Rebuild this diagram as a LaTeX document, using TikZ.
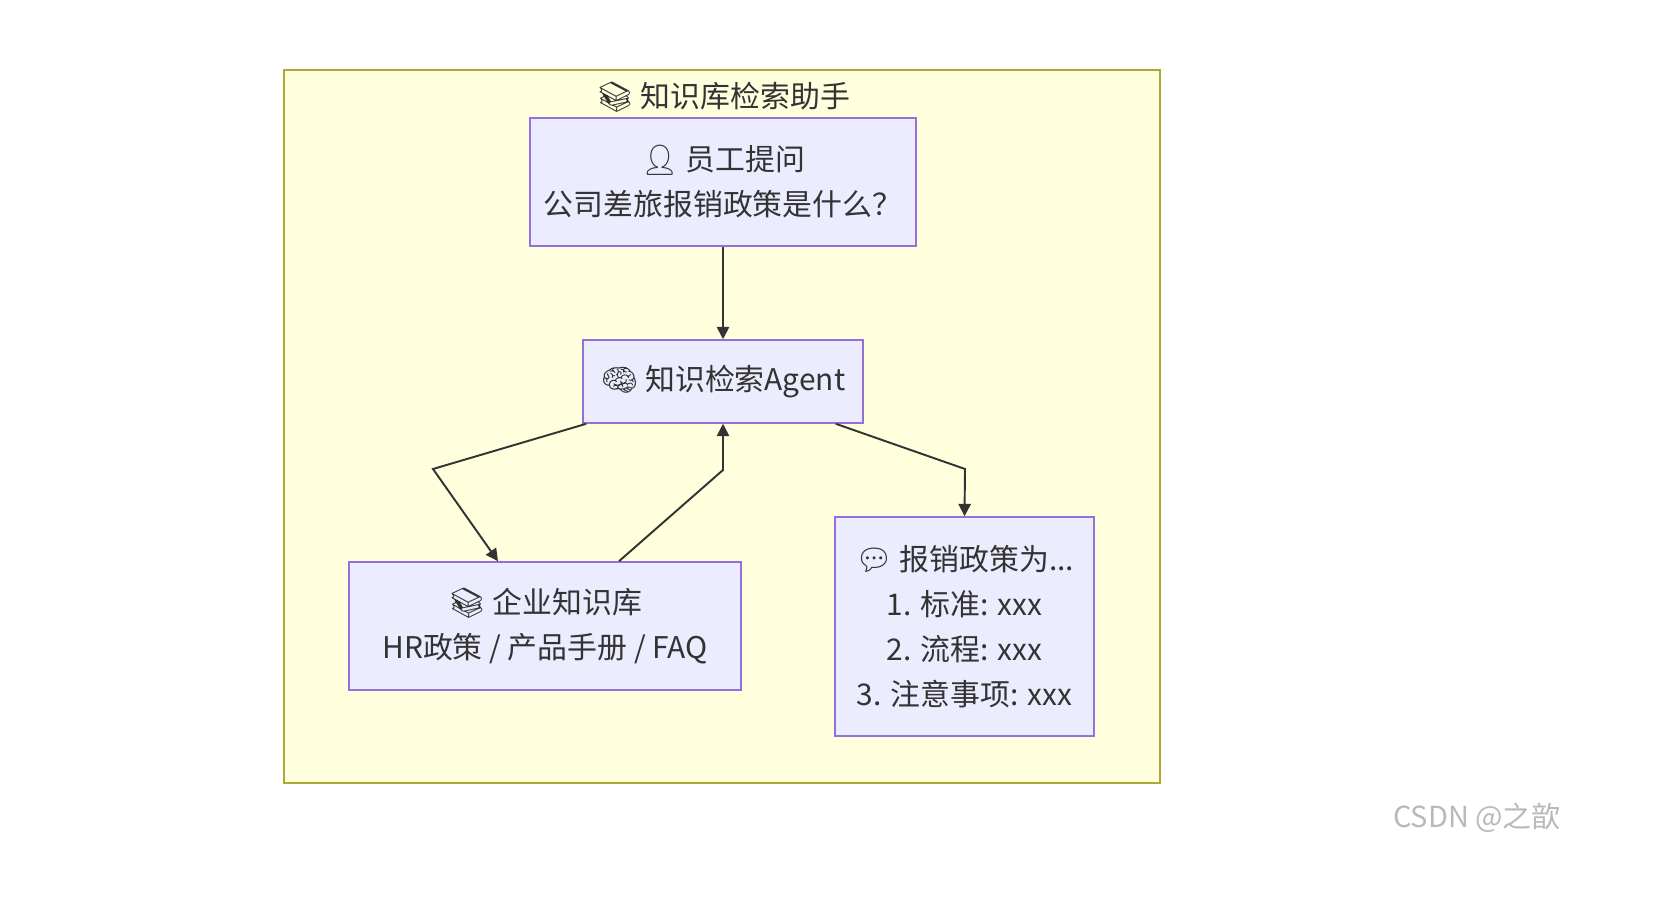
\documentclass[tikz,border=0pt]{standalone}
\usepackage{fontspec}
\setmainfont{Noto Sans CJK SC}
\newfontfamily\emo{Noto Emoji}
\usetikzlibrary{arrows.meta}
\definecolor{nfill}{HTML}{ECECFF}
\definecolor{nborder}{HTML}{9370DB}
\definecolor{cfill}{HTML}{FFFFDE}
\definecolor{cborder}{HTML}{AAAA33}
\definecolor{edge}{HTML}{333333}
\tikzset{
  box/.style={draw=nborder,fill=nfill,line width=0.9pt,align=center,font=\fontsize{17}{25.6}\selectfont,text=edge,inner sep=0pt},
  link/.style={draw=edge,line width=1.1pt,-{Triangle[length=7pt,width=7pt]}}
}
\begin{document}
\begin{tikzpicture}
\useasboundingbox (0,0) rectangle (33.28,-17.96);
\draw[fill=cfill,draw=cborder,line width=0.9pt] (5.68,-1.4) rectangle (23.2,-15.66);
\node[font=\fontsize{17}{20}\selectfont,text=edge] (title) at (14.46,-1.94) {{\emo 📚} 知识库检索助手};
\node[box,minimum width=7.72cm,minimum height=2.56cm] (n1) at (14.46,-3.64) {{\emo 👤} 员工提问\\公司差旅报销政策是什么？};
\node[box,minimum width=5.6cm,minimum height=1.66cm] (agent) at (14.46,-7.63) {{\emo 🧠} 知识检索Agent};
\node[box,minimum width=7.84cm,minimum height=2.56cm] (kb) at (10.9,-12.52) {{\emo 📚} 企业知识库\\HR政策 / 产品手册 / FAQ};
\node[box,minimum width=5.18cm,minimum height=4.38cm] (ans) at (19.29,-12.53) {{\emo 💬} 报销政策为...\\1. 标准: xxx\\2. 流程: xxx\\3. 注意事项: xxx};
\coordinate (b1) at (8.66,-9.38);
\coordinate (b2) at (14.46,-9.4);
\coordinate (b3) at (19.3,-9.38);
\draw[link] (n1.south) -- (agent.north);
\draw[link] ([xshift=0.08cm]agent.south west) -- (b1) -- ([xshift=-0.94cm]kb.north);
\draw[link] ([xshift=1.48cm]kb.north) -- (b2) -- (agent.south);
\draw[link] ([xshift=-0.56cm]agent.south east) -- (b3) -- (ans.north);
\node[text=gray!55,font=\fontsize{16.5}{18}\selectfont] (wm) at (29.54,-16.36) {CSDN @之歆};
\end{tikzpicture}
\end{document}
